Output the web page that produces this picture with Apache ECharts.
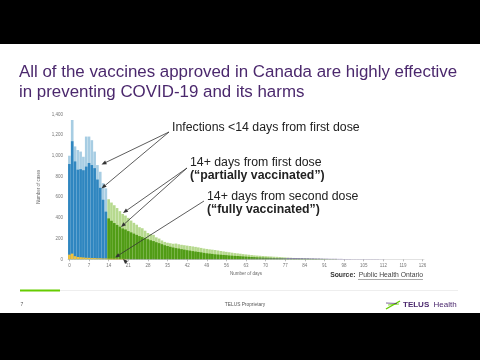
<!DOCTYPE html>
<html><head><meta charset="utf-8">
<script src="https://cdn.jsdelivr.net/npm/echarts@6/dist/echarts.min.js"></script>
<style>
html,body{margin:0;padding:0;background:#000;}
#c{width:480px;height:360px;background:linear-gradient(#000 0,#000 44px,#fff 44px,#fff 313px,#000 313px,#000 360px);}
</style></head>
<body><div id="c"></div>
<script>
// ---- data ----
const dayCount = 127;
const days = Array.from({length: dayCount}, (_, i) => String(i));
const yTickLabels = ['0','200','400','600','800','1,000','1,200','1,400'];
// total height of each bar (light shade)
const totalCases = [
  1000,1345,1090,1055,1040,990,1185,1185,1150,1040,910,845,735,685,
  580,548,522,495,465,438,422,400,374,352,334,310,300,276,254,244,236,212,200,182,168,160,155,150,
  152,145,140,136,132,128,124,120,115,110,104,100,96,93,90,85,80,76,72,68,64,60,57,54,50,47,44,41,38,36,
  34,32,30,28,27,25,24,22,20,18,16,15,13,12,11,10,9,8,7,6,5,5,4,4,3,3,2,2
];
// darker shade portion
const darkCases = [
  920,1140,945,865,870,860,895,930,910,880,770,690,575,460,
  395,372,350,332,315,298,288,272,260,248,236,224,214,204,194,184,176,165,156,146,136,128,121,114,
  108,104,98,93,88,84,79,75,71,67,62,58,55,52,48,46,44,42,40,37,35,33,32,30,28,26,24,22,21,19,
  18,17,16,15,14,13,12,11,10,9,8,7,6,6,5,5,4,4,3,3,3,2,2,2,1,1,1,1
];
const unvaxCases = [45,55,30,22,20,18,15,14,12,12,10,10,8,8,6,6,5,5,4,4,3];
const fullyVaxCases = [
  0,0,0,0,0,0,0,0,0,0,0,0,0,0,
  2,3,3,4,3,3,4,4,3,4,3,3,4,3,3,3,4,3,3,3,3,4,3,3,3,3,3,4,3,3,3,3,4,3,3,3,3,3,4,3,3,3,3,3,3,3,
  3,3,4,4,4,5,5,5,6,6,6,7,7,7,8,8,8,9,
  13,12,12,12,11,11,10,10,9,9,8,8,7,
  6,6,5,5,5,4,4,
  3,3,3,2,2,2,2,2,2,2,2,2,2,1,1
];
const firstDoseDays = 14;

// ---- styles ----
const FONT = "'Liberation Sans', Arial, sans-serif";
const C = {
  blueDark:'#2f86c0', blueLight:'#a7cde3', greenDark:'#519c16', greenLight:'#b6d98e',
  orange:'#f2c23a', purple:'#8a7fae', title:'#4b286d', text:'#222'
};

function arrow(x1,y1,x2,y2){
  const a = Math.atan2(y2-y1, x2-x1), L = 5, W = 2;
  const bx = x2 - L*Math.cos(a), by = y2 - L*Math.sin(a);
  const px = -Math.sin(a)*W, py = Math.cos(a)*W;
  return [
    {type:'line', z:50, shape:{x1,y1,x2:bx,y2:by}, style:{stroke:'#333', lineWidth:0.8}},
    {type:'polygon', z:50, shape:{points:[[x2,y2],[bx+px,by+py],[bx-px,by-py]]}, style:{fill:'#333'}}
  ];
}
function txt(x,y,text,size,opts){
  opts = opts||{};
  return {type:'text', z:50, style:Object.assign({
    x, y, text, fill:opts.fill||C.text, font:(opts.weight||'normal')+' '+size+'px '+FONT,
    textAlign:opts.align||'left', align:opts.align||'left',
    textVerticalAlign:'middle', verticalAlign:'middle'
  }, opts.extra||{})};
}

const graphics = [
  txt(19, 72, 'All of the vaccines approved in Canada are highly effective', 16.9, {fill:C.title}),
  txt(19, 92.5, 'in preventing COVID-19 and its harms', 16.9, {fill:C.title}),
  txt(172, 128, 'Infections <14 days from first dose', 12.3),
  txt(190, 163, '14+ days from first dose', 12.3),
  txt(190, 176, '(\u201cpartially vaccinated\u201d)', 12.3, {weight:'bold'}),
  txt(207, 197, '14+ days from second dose', 12.3),
  txt(207, 210, '(\u201cfully vaccinated\u201d)', 12.3, {weight:'bold'}),
  ...arrow(169,132,101.5,164.5),
  ...arrow(169,132,101.5,188.5),
  ...arrow(187,168,123,213),
  ...arrow(187,168,121,227),
  ...arrow(204,201,115,257.5),
  ...arrow(127,263,123,259),
  {type:'text', z:50, style:{x:423, y:275, text:'{b|Source:} {u|Public Health Ontario}',
    textAlign:'right', align:'right', textVerticalAlign:'middle', verticalAlign:'middle',
    rich:{b:{font:'bold 6.8px '+FONT, fill:'#333'}, u:{font:'6.8px '+FONT, fill:'#444'}}}},
  {type:'line', z:50, shape:{x1:358, y1:279.5, x2:423, y2:279.5}, style:{stroke:'#555', lineWidth:0.5}},
  {type:'line', z:50, shape:{x1:20, y1:290.5, x2:60, y2:290.5}, style:{stroke:'#66cc00', lineWidth:2}},
  {type:'line', z:50, shape:{x1:60, y1:290.5, x2:458, y2:290.5}, style:{stroke:'#e2e2e2', lineWidth:0.6}},
  txt(20.5, 305, '7', 5, {fill:'#555'}),
  txt(245, 305, 'TELUS Proprietary', 4.8, {fill:'#555', align:'center'}),
  {type:'line', z:50, shape:{x1:386, y1:309, x2:400, y2:301}, style:{stroke:'#66cc00', lineWidth:1.4}},
  {type:'line', z:50, shape:{x1:388, y1:305, x2:399, y2:304}, style:{stroke:'#66cc00', lineWidth:0.8}},
  {type:'line', z:50, shape:{x1:386, y1:303, x2:397, y2:303.5}, style:{stroke:'#4b286d', lineWidth:0.7}},
  txt(403, 305, 'TELUS', 8, {fill:C.title, weight:'bold'}),
  txt(433.5, 305, 'Health', 8, {fill:C.title})
];

const chart = echarts.init(document.getElementById('c'), null, {renderer:'canvas'});
chart.setOption({
  backgroundColor:'transparent',
  animation:false,
  textStyle:{fontFamily:FONT},
  grid:{left:68, right:56, top:114.3, bottom:100.7},
  xAxis:{
    type:'category', data:days,
    name:'Number of days', nameLocation:'middle', nameGap:12,
    nameTextStyle:{fontSize:4.5, color:'#666'},
    axisLine:{lineStyle:{color:'#cfcfcf', width:0.6}},
    axisTick:{show:true, interval:6, alignWithLabel:true, length:2, lineStyle:{color:'#bbb'}},
    axisLabel:{interval:6, fontSize:4.5, color:'#777', margin:4}
  },
  yAxis:{
    type:'value', min:0, max:1400, interval:200,
    name:'Number of cases', nameLocation:'middle', nameGap:17, nameRotate:90,
    nameTextStyle:{fontSize:4.5, color:'#666'},
    axisLine:{show:false}, axisTick:{show:false}, splitLine:{show:false},
    axisLabel:{fontSize:4.5, color:'#777', margin:5, formatter:(v)=>yTickLabels[Math.round(v/200)]}
  },
  graphic:{elements:graphics},
  series:[
    {type:'bar', name:'total', data:totalCases, barGap:'-100%', barCategoryGap:'6%',
     itemStyle:{color:(p)=>p.dataIndex<firstDoseDays?C.blueLight:C.greenLight}},
    {type:'bar', name:'dark', data:darkCases, barGap:'-100%', barCategoryGap:'6%',
     itemStyle:{color:(p)=>p.dataIndex<firstDoseDays?C.blueDark:C.greenDark}},
    {type:'bar', name:'fully', data:fullyVaxCases, barGap:'-100%', barCategoryGap:'6%',
     itemStyle:{color:C.purple}},
    {type:'bar', name:'unvax', data:unvaxCases, barGap:'-100%', barCategoryGap:'6%',
     itemStyle:{color:C.orange}}
  ]
});
</script>
</body></html>
